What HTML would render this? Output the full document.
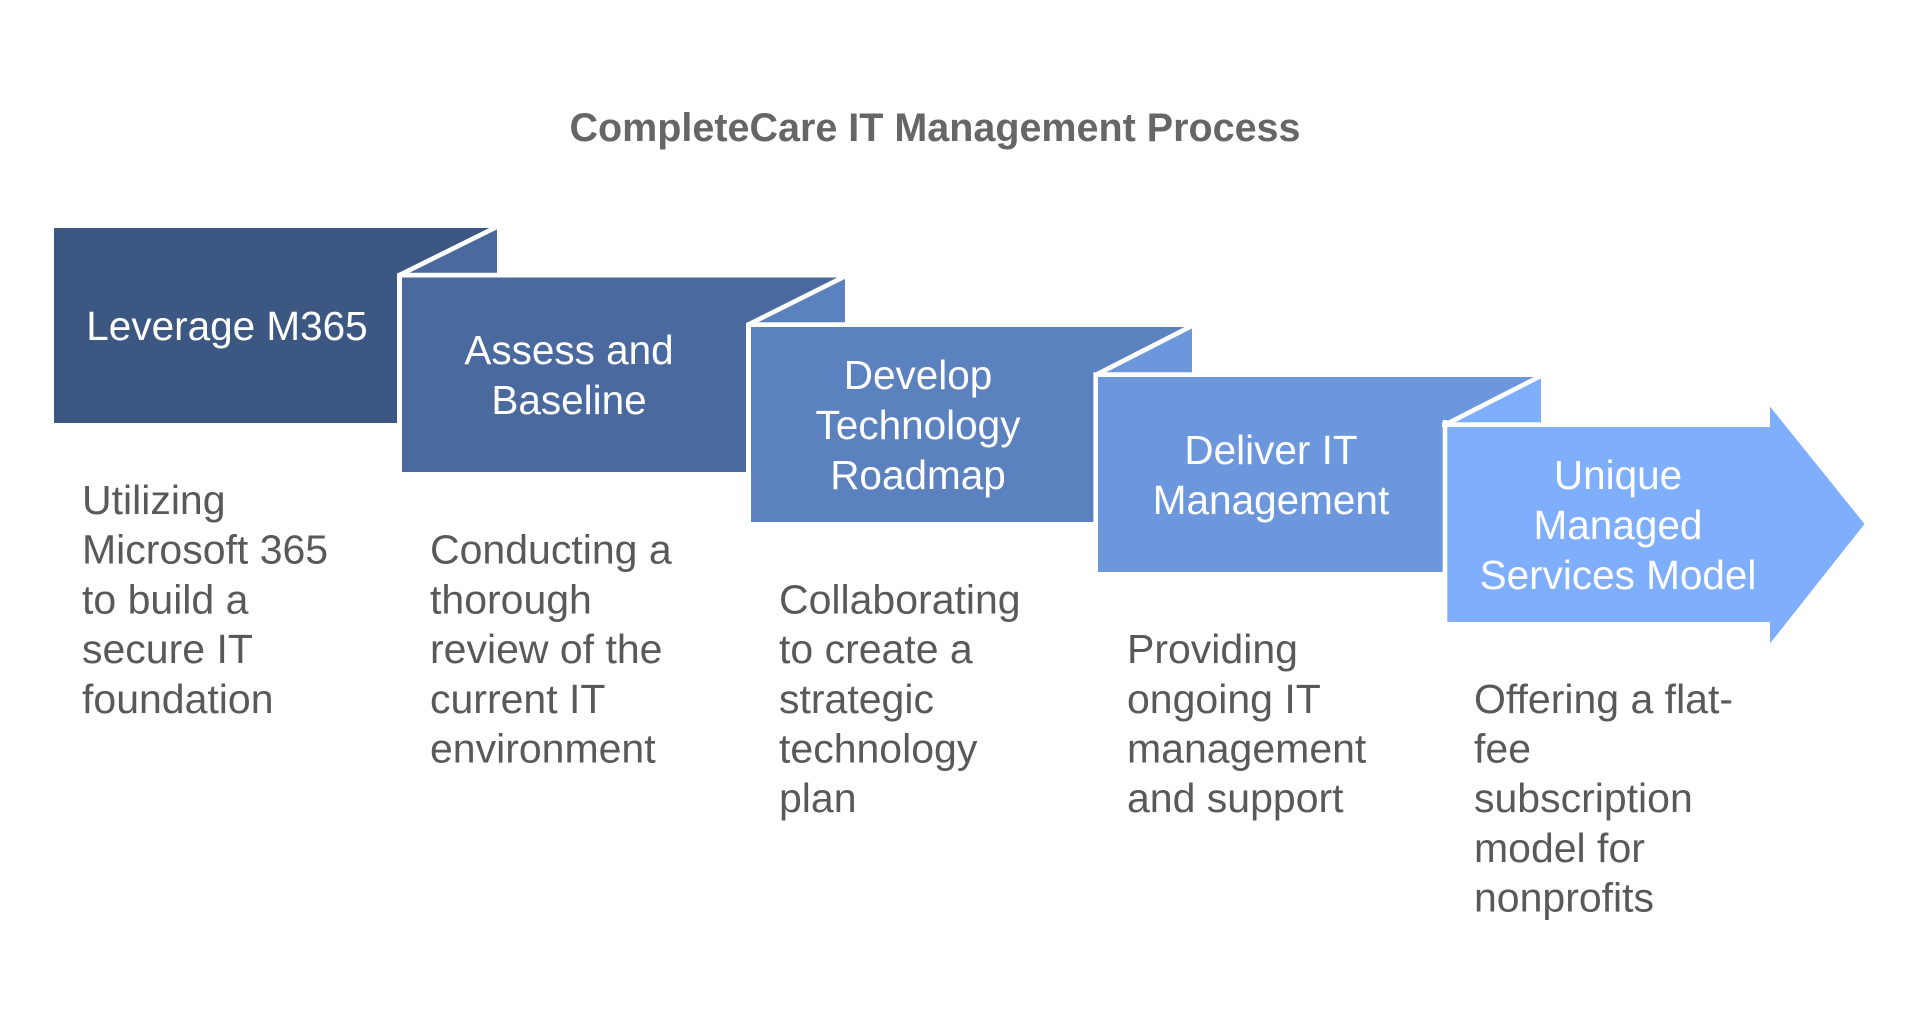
<!DOCTYPE html>
<html>
<head>
<meta charset="utf-8">
<style>
  html, body { margin: 0; padding: 0; background: #ffffff; }
  body { width: 1920px; height: 1024px; overflow: hidden; }
  svg { display: block; }
  .lbl { font-family: "Liberation Sans", Arial, sans-serif; font-size: 40.5px; fill: #ffffff; text-anchor: middle; }
  .desc { font-family: "Liberation Sans", Arial, sans-serif; font-size: 41px; fill: #595959; }
  .title { font-family: "Liberation Sans", Arial, sans-serif; font-size: 39.5px; font-weight: bold; fill: #666666; text-anchor: middle; }
</style>
</head>
<body>
<svg width="1920" height="1024" viewBox="0 0 1920 1024" xmlns="http://www.w3.org/2000/svg">
  <rect x="0" y="0" width="1920" height="1024" fill="#ffffff"/>

  <text class="title" x="935" y="141">CompleteCare IT Management Process</text>

  <g stroke="#ffffff" stroke-width="4.6" stroke-linejoin="miter" stroke-miterlimit="2">
    <!-- Box 1 -->
    <polygon fill="#3b5782" points="51.7,225.7 499.3,225.7 399.3,275.2 399.3,425.3 51.7,425.3"/>
    <!-- Flap 2 -->
    <polygon fill="#4a6a9f" points="399.3,275.2 499.3,225.7 499.3,275.2"/>
    <!-- Box 2 -->
    <polygon fill="#4a6a9f" points="399.7,275.2 847.3,275.2 748.3,324.7 748.3,474.3 399.7,474.3"/>
    <!-- Flap 3 -->
    <polygon fill="#5b81bf" points="748.3,324.7 847.3,275.2 847.3,324.7"/>
    <!-- Box 3 -->
    <polygon fill="#5b81bf" points="748.7,324.7 1194.3,324.7 1096.3,374.7 1096.3,524.3 748.7,524.3"/>
    <!-- Flap 4 -->
    <polygon fill="#6c97dc" points="1096.3,374.7 1194.3,324.7 1194.3,374.7"/>
    <!-- Box 4 -->
    <polygon fill="#6c97dc" points="1095.7,374.7 1543.3,374.7 1445.3,424.7 1445.3,574.3 1095.7,574.3"/>
    <!-- Flap 5 -->
    <polygon fill="#7eaefc" points="1445.3,424.7 1543.3,374.7 1543.3,424.7"/>
  </g>
  <!-- Box 5 arrow (unstroked, visible coordinates) -->
  <polygon fill="#7eaefc" points="1447,427 1770,427 1770,406.5 1864.5,524 1770,643.5 1770,622 1447,622"/>
  <!-- white separators for box 5 -->
  <line x1="1445" y1="420" x2="1445" y2="628" stroke="#ffffff" stroke-width="4.6"/>
  <line x1="1442" y1="424.7" x2="1770" y2="424.7" stroke="#ffffff" stroke-width="4.6"/>

  <!-- Box labels -->
  <text class="lbl" x="227" y="340">Leverage M365</text>

  <text class="lbl" x="569" y="364">Assess and</text>
  <text class="lbl" x="569" y="414">Baseline</text>

  <text class="lbl" x="918" y="389">Develop</text>
  <text class="lbl" x="918" y="439">Technology</text>
  <text class="lbl" x="918" y="489">Roadmap</text>

  <text class="lbl" x="1271" y="464">Deliver IT</text>
  <text class="lbl" x="1271" y="514">Management</text>

  <text class="lbl" x="1618" y="489">Unique</text>
  <text class="lbl" x="1618" y="539">Managed</text>
  <text class="lbl" x="1618" y="589">Services Model</text>

  <!-- Descriptions -->
  <text class="desc" x="82" y="514">Utilizing</text>
  <text class="desc" x="82" y="563.7">Microsoft 365</text>
  <text class="desc" x="82" y="613.4">to build a</text>
  <text class="desc" x="82" y="663.1">secure IT</text>
  <text class="desc" x="82" y="712.8">foundation</text>

  <text class="desc" x="430" y="563.7">Conducting a</text>
  <text class="desc" x="430" y="613.4">thorough</text>
  <text class="desc" x="430" y="663.1">review of the</text>
  <text class="desc" x="430" y="712.8">current IT</text>
  <text class="desc" x="430" y="762.5">environment</text>

  <text class="desc" x="779" y="613.4">Collaborating</text>
  <text class="desc" x="779" y="663.1">to create a</text>
  <text class="desc" x="779" y="712.8">strategic</text>
  <text class="desc" x="779" y="762.5">technology</text>
  <text class="desc" x="779" y="812.2">plan</text>

  <text class="desc" x="1127" y="663.1">Providing</text>
  <text class="desc" x="1127" y="712.8">ongoing IT</text>
  <text class="desc" x="1127" y="762.5">management</text>
  <text class="desc" x="1127" y="812.2">and support</text>

  <text class="desc" x="1474" y="712.8">Offering a flat-</text>
  <text class="desc" x="1474" y="762.5">fee</text>
  <text class="desc" x="1474" y="812.2">subscription</text>
  <text class="desc" x="1474" y="861.9">model for</text>
  <text class="desc" x="1474" y="911.6">nonprofits</text>
</svg>
</body>
</html>
